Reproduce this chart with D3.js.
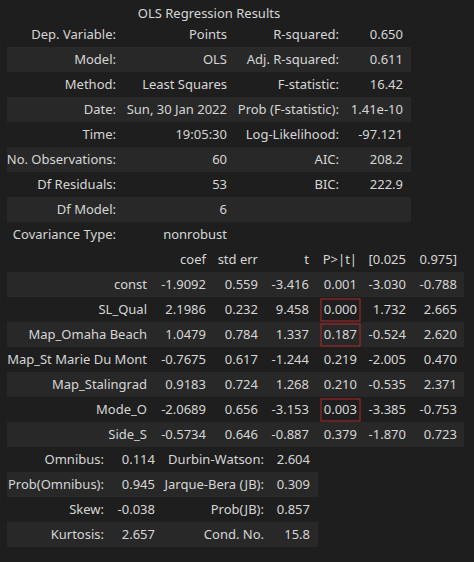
<!DOCTYPE html>
<html><head><meta charset="utf-8">
<script src="https://cdn.jsdelivr.net/npm/d3@7"></script>
<style>
body{margin:0;background:#1e1e1e;}
svg{display:block;font-family:"Noto Sans","Open Sans",sans-serif;}
</style></head>
<body><div id="chart"></div>
<script>
const title = "OLS Regression Results";
const topLabelsL = ["Dep. Variable:","Model:","Method:","Date:","Time:","No. Observations:","Df Residuals:","Df Model:","Covariance Type:"];
const topValuesL = ["Points","OLS","Least Squares","Sun, 30 Jan 2022","19:05:30","60","53","6","nonrobust"];
const topLabelsR = ["R-squared:","Adj. R-squared:","F-statistic:","Prob (F-statistic):","Log-Likelihood:","AIC:","BIC:","",""];
const topValuesR = ["0.650","0.611","16.42","1.41e-10","-97.121","208.2","222.9","",""];

const coefHeader = ["","coef","std err","t","P>|t|","[0.025","0.975]"];
const coefNames = ["const","SL_Qual","Map_Omaha Beach","Map_St Marie Du Mont","Map_Stalingrad","Mode_O","Side_S"];
const coefVals = [-1.9092, 2.1986, 1.0479, -0.7675, 0.9183, -2.0689, -0.5734];
const stdErr = [0.559, 0.232, 0.784, 0.617, 0.724, 0.656, 0.646];
const tVals = [-3.416, 9.458, 1.337, -1.244, 1.268, -3.153, -0.887];
const pVals = ["0.001","0.000","0.187","0.219","0.210","0.003","0.379"];
const ciLow = [-3.030, 1.732, -0.524, -2.005, -0.535, -3.385, -1.870];
const ciHigh = [-0.788, 2.665, 2.620, 0.470, 2.371, -0.753, 0.723];
const highlighted = ["SL_Qual","Map_Omaha Beach","Mode_O"];

const diagLabelsL = ["Omnibus:","Prob(Omnibus):","Skew:","Kurtosis:"];
const diagValuesL = ["0.114","0.945","-0.038","2.657"];
const diagLabelsR = ["Durbin-Watson:","Jarque-Bera (JB):","Prob(JB):","Cond. No."];
const diagValuesR = ["2.604","0.309","0.857","15.8"];

const W = 474, H = 562, rowH = 25, fg = "#d6d6d6";
const svg = d3.select("#chart").append("svg").attr("width", W).attr("height", H);

function table(rows, y0, xRight, bandX0, bandX1, stripeOdd) {
  const y = d3.scaleBand().domain(d3.range(rows.length)).range([y0, y0 + rows.length * rowH]);
  const g = svg.append("g");
  g.selectAll("rect.stripe").data(d3.range(rows.length).filter(i => i % 2 === stripeOdd))
    .join("rect").attr("class","stripe")
    .attr("x", bandX0).attr("width", bandX1 - bandX0)
    .attr("y", i => y(i)).attr("height", y.bandwidth()).attr("fill", "#282828");
  rows.forEach((r, i) => {
    g.selectAll(null).data(r).join("text")
      .attr("x", (d, j) => xRight[j]).attr("y", y(i) + y.bandwidth() / 2)
      .attr("dy", "0.35em").attr("text-anchor", "end")
      .attr("font-size", 13).attr("fill", fg).text(d => d);
  });
  return y;
}

svg.append("text").attr("x", 209).attr("y", 13).attr("dy","0.35em")
  .attr("text-anchor","middle").attr("font-size",13).attr("fill",fg).text(title);

table(topLabelsL.map((d, i) => [d, topValuesL[i], topLabelsR[i], topValuesR[i]]),
  22, [116, 227, 339, 403], 7, 411, 1);

const f4 = d3.format(".4f"), f3 = d3.format(".3f");
const neg = f => v => f(v).replace("−", "-");
const coefRows = [coefHeader].concat(coefNames.map((n, i) => [n, neg(f4)(coefVals[i]), neg(f3)(stdErr[i]),
  neg(f3)(tVals[i]), pVals[i], neg(f3)(ciLow[i]), neg(f3)(ciHigh[i])]));
const yc = table(coefRows, 247, [147, 206, 258, 309, 357, 406, 457], 7, 464, 1);

svg.selectAll("rect.hl").data(highlighted).join("rect").attr("class","hl")
  .attr("x", 321).attr("width", 39)
  .attr("y", d => yc(coefNames.indexOf(d) + 1) + 2).attr("height", rowH - 3)
  .attr("fill","none").attr("stroke","#b0282a").attr("stroke-width",1);

table(diagLabelsL.map((d, i) => [d, diagValuesL[i], diagLabelsR[i], diagValuesR[i]]),
  447, [104, 155, 264, 310], 7, 318, 1);
</script></body></html>
